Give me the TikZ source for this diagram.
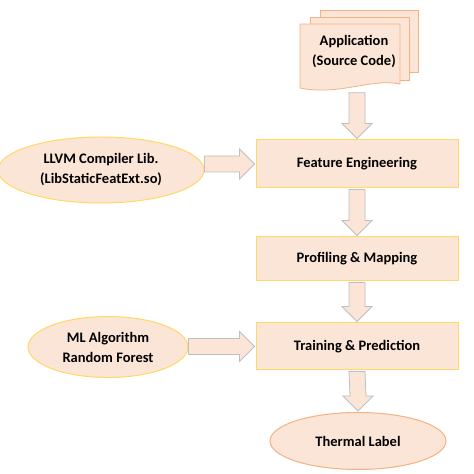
\documentclass[tikz,border=0pt]{standalone}
\usepackage{fontspec}
\setmainfont{Carlito}
\usetikzlibrary{calc,shapes.geometric}
\definecolor{peach}{HTML}{FBE5D6}
\definecolor{goldline}{HTML}{FFD966}
\definecolor{salmonline}{HTML}{F4B183}
\definecolor{arrowline}{HTML}{BFBFBF}

\begin{document}
\begin{tikzpicture}[x=1pt, y=1pt,
    every node/.style={font=\fontsize{14.5}{20}\selectfont\bfseries, align=center},
    stepbox/.style={draw=goldline, fill=peach, line width=1pt, minimum width=202pt, inner sep=0pt},
    source/.style={ellipse, draw=goldline, fill=peach, line width=1pt, inner sep=0pt},
    sheet/.style={draw=salmonline, fill=peach, line width=0.8pt},
    flow/.style={draw=arrowline, fill=peach, line width=0.8pt, line join=miter}]
    \useasboundingbox (0,0) rectangle (474,474);
    % stacked documents
    \draw[sheet] (320,464) rectangle (418,402);
    \draw[sheet] (310,457) rectangle (409,394);
    \draw[sheet] (300,450) -- (400,450) -- (400,390)
        .. controls (370,396) and (340,378) .. (300,386) -- cycle;
    \node (app) at (354,422) {Application\\(Source Code)};
    \node[inner sep=0pt] (docbot) at (357,383) {};
    % steps
    \node[stepbox, minimum height=48pt] (feat) at (357,310) {Feature Engineering};
    \node[stepbox, minimum height=44pt] (prof) at (357,215) {Profiling \& Mapping};
    \node[stepbox, minimum height=47pt] (train) at (357,127.5) {Training \& Prediction};
    \node[ellipse, draw=salmonline, fill=peach, line width=1pt, inner sep=0pt,
        minimum width=176pt, minimum height=57pt] (label) at (358,33) {Thermal Label};
    % inputs
    \node[source, minimum width=206pt, minimum height=66pt] (llvm) at (101,304)
        {LLVM Compiler Lib.\\(LibStaticFeatExt.so)};
    \node[source, minimum width=160pt, minimum height=61pt] (ml) at (108,127)
        {ML Algorithm\\Random Forest};
    % block arrows
    \foreach \a/\b in {docbot/feat, feat/prof, prof/train, train/label}
        \draw[flow] ($(\a.south)+(-8,-1)$) -- ($(\b.north)+(-8,16)$) -- ($(\b.north)+(-15,16)$)
            -- ($(\b.north)+(0,1)$) -- ($(\b.north)+(15,16)$) -- ($(\b.north)+(8,16)$)
            -- ($(\a.south)+(8,-1)$) -- cycle;
    \foreach \a/\b in {llvm/feat, ml/train}
        \draw[flow] ($(\a.east |- \b.west)+(0,-8)$) -- ($(\b.west)+(-16,-8)$) -- ($(\b.west)+(-16,-15)$)
            -- ($(\b.west)+(-1,0)$) -- ($(\b.west)+(-16,15)$) -- ($(\b.west)+(-16,8)$)
            -- ($(\a.east |- \b.west)+(0,8)$) -- cycle;
\end{tikzpicture}
\end{document}
